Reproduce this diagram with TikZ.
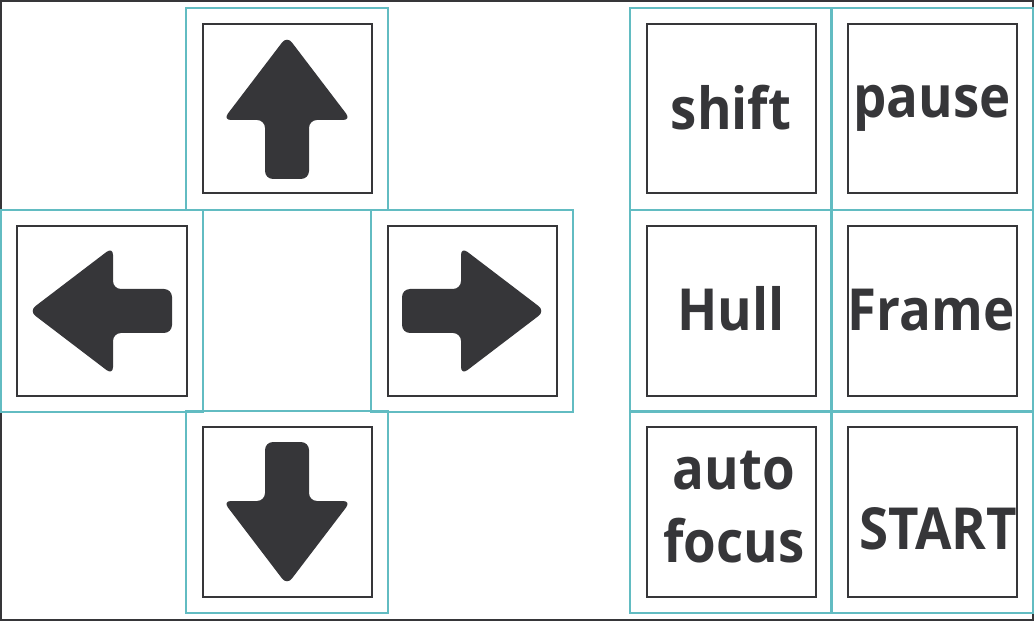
\documentclass[tikz,border=0pt]{standalone}
\usepackage{fontspec}
\setmainfont{Open Sans}[FakeStretch=0.91]
\definecolor{keygray}{HTML}{363639}
\definecolor{gridteal}{HTML}{62BCC2}

\begin{document}
\begin{tikzpicture}[x=0.2mm, y=-0.2mm,
    cell/.style={draw=gridteal, line width=0.35mm, minimum size=40.4mm, inner sep=0pt},
    key/.style={draw=keygray, line width=0.4mm, minimum size=33.8mm, inner sep=0pt},
    keytext/.style={text=keygray, font=\fontsize{33}{41}\selectfont\bfseries, anchor=base, align=center, inner sep=0pt},
    keyarrow/.pic={\fill[keygray, rounded corners=1.6mm] (0,-73) -- (64,11) -- (22,11) -- (22,70) -- (-22,70) -- (-22,11) -- (-64,11) -- cycle;}]

   \useasboundingbox (0,0) rectangle (1035,622);
   \draw[keygray, line width=0.25mm] (1,1) rectangle (1033,620);

   \foreach \n/\x/\y in {up/287/109, left/102/311, right/472/311, down/287/512, shift/731/109, pause/932/109, hull/731/311, frame/932/311, auto/731/512, start/932/512}
   {
     \node [cell] (c\n) at (\x,\y) {};
     \node [key] (k\n) at (c\n) {};
   }

   \foreach \n/\r in {up/0, left/90, right/-90, down/180}
     \pic [rotate=\r] at (k\n) {keyarrow};

   \foreach \n/\x/\y/\t in {shift/731/130/shift, pause/932/118/pause, hull/731/331/Hull, frame/931/331/Frame, start/938/549/START}
     \node [keytext] (t\n) at (\x,\y) {\t};
   \node [keytext] (tauto) at (734,562) {auto\\focus};
\end{tikzpicture}
\end{document}
